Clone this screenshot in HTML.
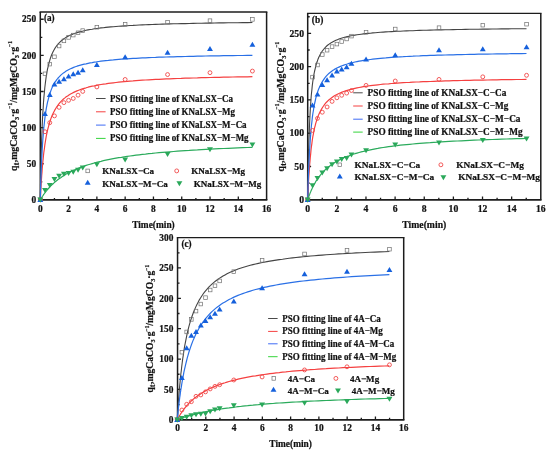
<!DOCTYPE html>
<html lang="en">
<head>
<meta charset="utf-8">
<title>PSO fitting lines</title>
<style>
html,body{margin:0;padding:0;background:#fff;}
body{width:550px;height:454px;overflow:hidden;}
svg{display:block;}
svg text{font-family:"Liberation Serif","Times New Roman",serif;font-weight:bold;fill:#111;stroke:#111;stroke-width:0.22px;}
</style>
</head>
<body>
<svg width="550" height="454" viewBox="0 0 550 454">
<rect width="550" height="454" fill="#fff"/>
<g id="panel-a">
<path d="M39.55 12H267.35" stroke="#1c1c1c" stroke-width="1.4"/><path d="M40.3 12V199.9M266.6 12V199.9" stroke="#1c1c1c" stroke-width="1.5"/><path d="M39.55 199.9H267.35" stroke="#1c1c1c" stroke-width="1.75"/>
<path d="M54.44 199.9v-2.0M68.59 199.9v-3.4M82.73 199.9v-2.0M96.88 199.9v-3.4M111.02 199.9v-2.0M125.16 199.9v-3.4M139.31 199.9v-2.0M153.45 199.9v-3.4M167.59 199.9v-2.0M181.74 199.9v-3.4M195.88 199.9v-2.0M210.03 199.9v-3.4M224.17 199.9v-2.0M238.31 199.9v-3.4M252.46 199.9v-2.0M40.3 181.83h2.0M40.3 163.77h3.4M40.3 145.7h2.0M40.3 127.63h3.4M40.3 109.56h2.0M40.3 91.5h3.4M40.3 73.43h2.0M40.3 55.36h3.4M40.3 37.29h2.0M40.3 19.23h3.4" stroke="#1c1c1c" stroke-width="1.3" fill="none"/>
<path d="M40.3 199.8L40.3 199.7L40.3 199.4L40.3 198.6L40.3 197.3L40.4 195.4L40.4 192.8L40.5 189.5L40.5 185.6L40.6 181.1L40.7 176.0L40.8 170.3L41.0 164.3L41.1 158.0L41.3 151.6L41.5 145.0L41.7 138.4L42.0 131.9L42.2 125.5L42.5 119.3L42.8 113.3L43.2 107.7L43.5 102.2L43.9 97.1L44.4 92.3L44.8 87.8L45.3 83.5L45.8 79.6L46.3 75.9L46.9 72.4L47.5 69.2L48.2 66.3L48.9 63.5L49.6 60.9L50.3 58.5L51.1 56.3L51.9 54.2L52.8 52.3L53.7 50.5L54.6 48.9L55.6 47.3L56.6 45.9L57.7 44.5L58.7 43.3L59.9 42.1L61.1 41.0L62.3 40.0L63.5 39.0L64.9 38.1L66.2 37.3L67.6 36.5L69.0 35.7L70.5 35.0L72.1 34.4L73.7 33.8L75.3 33.2L77.0 32.6L78.7 32.1L80.5 31.6L82.3 31.2L84.2 30.7L86.1 30.3L88.1 29.9L90.1 29.5L92.2 29.2L94.3 28.8L96.5 28.5L98.7 28.2L101.0 27.9L103.4 27.7L105.8 27.4L108.3 27.1L110.8 26.9L113.3 26.7L116.0 26.5L118.7 26.3L121.4 26.1L124.2 25.9L127.1 25.7L130.0 25.5L133.0 25.4L136.0 25.2L139.1 25.0L142.3 24.9L145.5 24.8L148.8 24.6L152.1 24.5L155.6 24.4L159.0 24.3L162.6 24.1L166.2 24.0L169.8 23.9L173.6 23.8L177.4 23.7L181.2 23.6L185.2 23.6L189.2 23.5L193.2 23.4L197.4 23.3L201.6 23.2L205.8 23.1L210.2 23.1L214.6 23.0L219.1 22.9L223.6 22.9L228.2 22.8L232.9 22.7L237.7 22.7L242.5 22.6L247.4 22.6L252.4 22.5" fill="none" stroke="#444444" stroke-width="1.1" stroke-linejoin="round"/>
<path d="M40.3 199.8L40.3 199.8L40.3 199.7L40.3 199.4L40.3 199.0L40.4 198.4L40.4 197.5L40.5 196.4L40.5 195.0L40.6 193.4L40.7 191.5L40.8 189.4L41.0 187.0L41.1 184.4L41.3 181.6L41.5 178.6L41.7 175.5L42.0 172.3L42.2 168.9L42.5 165.5L42.8 162.1L43.2 158.6L43.5 155.2L43.9 151.8L44.4 148.5L44.8 145.2L45.3 142.0L45.8 138.9L46.3 136.0L46.9 133.1L47.5 130.3L48.2 127.6L48.9 125.1L49.6 122.7L50.3 120.3L51.1 118.1L51.9 116.0L52.8 114.0L53.7 112.2L54.6 110.4L55.6 108.7L56.6 107.0L57.7 105.5L58.7 104.1L59.9 102.7L61.1 101.4L62.3 100.2L63.5 99.0L64.9 97.9L66.2 96.8L67.6 95.9L69.0 94.9L70.5 94.0L72.1 93.2L73.7 92.4L75.3 91.6L77.0 90.9L78.7 90.2L80.5 89.5L82.3 88.9L84.2 88.3L86.1 87.8L88.1 87.2L90.1 86.7L92.2 86.2L94.3 85.8L96.5 85.3L98.7 84.9L101.0 84.5L103.4 84.1L105.8 83.8L108.3 83.4L110.8 83.1L113.3 82.8L116.0 82.5L118.7 82.2L121.4 81.9L124.2 81.6L127.1 81.4L130.0 81.1L133.0 80.9L136.0 80.6L139.1 80.4L142.3 80.2L145.5 80.0L148.8 79.8L152.1 79.6L155.6 79.4L159.0 79.3L162.6 79.1L166.2 78.9L169.8 78.8L173.6 78.6L177.4 78.5L181.2 78.4L185.2 78.2L189.2 78.1L193.2 78.0L197.4 77.9L201.6 77.7L205.8 77.6L210.2 77.5L214.6 77.4L219.1 77.3L223.6 77.2L228.2 77.1L232.9 77.0L237.7 76.9L242.5 76.9L247.4 76.8L252.4 76.7" fill="none" stroke="#f54040" stroke-width="1.2" stroke-linejoin="round"/>
<path d="M40.3 199.8L40.3 199.8L40.3 199.5L40.3 199.1L40.3 198.3L40.4 197.1L40.4 195.5L40.5 193.5L40.5 191.0L40.6 188.2L40.7 184.9L40.8 181.2L41.0 177.2L41.1 172.9L41.3 168.4L41.5 163.8L41.7 159.0L42.0 154.2L42.2 149.4L42.5 144.7L42.8 140.0L43.2 135.5L43.5 131.1L43.9 126.8L44.4 122.8L44.8 118.9L45.3 115.2L45.8 111.7L46.3 108.4L46.9 105.3L47.5 102.3L48.2 99.6L48.9 97.0L49.6 94.6L50.3 92.3L51.1 90.1L51.9 88.1L52.8 86.3L53.7 84.5L54.6 82.9L55.6 81.3L56.6 79.9L57.7 78.5L58.7 77.3L59.9 76.1L61.1 74.9L62.3 73.9L63.5 72.9L64.9 72.0L66.2 71.1L67.6 70.3L69.0 69.5L70.5 68.8L72.1 68.1L73.7 67.4L75.3 66.8L77.0 66.2L78.7 65.7L80.5 65.2L82.3 64.7L84.2 64.2L86.1 63.8L88.1 63.3L90.1 62.9L92.2 62.6L94.3 62.2L96.5 61.9L98.7 61.5L101.0 61.2L103.4 60.9L105.8 60.6L108.3 60.4L110.8 60.1L113.3 59.9L116.0 59.6L118.7 59.4L121.4 59.2L124.2 59.0L127.1 58.8L130.0 58.6L133.0 58.4L136.0 58.3L139.1 58.1L142.3 57.9L145.5 57.8L148.8 57.6L152.1 57.5L155.6 57.4L159.0 57.2L162.6 57.1L166.2 57.0L169.8 56.9L173.6 56.8L177.4 56.7L181.2 56.6L185.2 56.5L189.2 56.4L193.2 56.3L197.4 56.2L201.6 56.1L205.8 56.0L210.2 55.9L214.6 55.9L219.1 55.8L223.6 55.7L228.2 55.6L232.9 55.6L237.7 55.5L242.5 55.5L247.4 55.4L252.4 55.3" fill="none" stroke="#2a70e6" stroke-width="1.2" stroke-linejoin="round"/>
<path d="M40.3 199.8L40.3 199.8L40.3 199.8L40.3 199.8L40.3 199.7L40.4 199.7L40.4 199.6L40.5 199.5L40.5 199.4L40.6 199.3L40.7 199.1L40.8 198.9L41.0 198.7L41.1 198.4L41.3 198.1L41.5 197.8L41.7 197.5L42.0 197.1L42.2 196.7L42.5 196.3L42.8 195.8L43.2 195.3L43.5 194.7L43.9 194.2L44.4 193.6L44.8 193.0L45.3 192.3L45.8 191.7L46.3 191.0L46.9 190.3L47.5 189.5L48.2 188.8L48.9 188.0L49.6 187.2L50.3 186.4L51.1 185.6L51.9 184.8L52.8 184.0L53.7 183.2L54.6 182.3L55.6 181.5L56.6 180.7L57.7 179.8L58.7 179.0L59.9 178.2L61.1 177.4L62.3 176.5L63.5 175.7L64.9 174.9L66.2 174.1L67.6 173.3L69.0 172.6L70.5 171.8L72.1 171.0L73.7 170.3L75.3 169.6L77.0 168.8L78.7 168.1L80.5 167.4L82.3 166.8L84.2 166.1L86.1 165.4L88.1 164.8L90.1 164.2L92.2 163.6L94.3 163.0L96.5 162.4L98.7 161.8L101.0 161.3L103.4 160.7L105.8 160.2L108.3 159.7L110.8 159.2L113.3 158.7L116.0 158.2L118.7 157.7L121.4 157.3L124.2 156.8L127.1 156.4L130.0 156.0L133.0 155.6L136.0 155.2L139.1 154.8L142.3 154.4L145.5 154.1L148.8 153.7L152.1 153.4L155.6 153.0L159.0 152.7L162.6 152.4L166.2 152.1L169.8 151.8L173.6 151.5L177.4 151.2L181.2 150.9L185.2 150.6L189.2 150.4L193.2 150.1L197.4 149.9L201.6 149.6L205.8 149.4L210.2 149.1L214.6 148.9L219.1 148.7L223.6 148.5L228.2 148.3L232.9 148.1L237.7 147.9L242.5 147.7L247.4 147.5L252.4 147.3" fill="none" stroke="#2bab5c" stroke-width="1.2" stroke-linejoin="round"/>
<rect x="38.5" y="198" width="3.6" height="3.6" fill="none" stroke="#707070" stroke-width="0.7"/>
<rect x="43.17" y="72.02" width="3.6" height="3.6" fill="none" stroke="#707070" stroke-width="0.7"/>
<rect x="47.97" y="62.32" width="3.6" height="3.6" fill="none" stroke="#707070" stroke-width="0.7"/>
<rect x="52.64" y="55.01" width="3.6" height="3.6" fill="none" stroke="#707070" stroke-width="0.7"/>
<rect x="57.31" y="44.22" width="3.6" height="3.6" fill="none" stroke="#707070" stroke-width="0.7"/>
<rect x="62.11" y="39.08" width="3.6" height="3.6" fill="none" stroke="#707070" stroke-width="0.7"/>
<rect x="66.78" y="35.61" width="3.6" height="3.6" fill="none" stroke="#707070" stroke-width="0.7"/>
<rect x="71.45" y="33.29" width="3.6" height="3.6" fill="none" stroke="#707070" stroke-width="0.7"/>
<rect x="76.25" y="30.97" width="3.6" height="3.6" fill="none" stroke="#707070" stroke-width="0.7"/>
<rect x="80.92" y="28.8" width="3.6" height="3.6" fill="none" stroke="#707070" stroke-width="0.7"/>
<rect x="95.06" y="25.4" width="3.6" height="3.6" fill="none" stroke="#707070" stroke-width="0.7"/>
<rect x="123.34" y="22.57" width="3.6" height="3.6" fill="none" stroke="#707070" stroke-width="0.7"/>
<rect x="165.76" y="20.4" width="3.6" height="3.6" fill="none" stroke="#707070" stroke-width="0.7"/>
<rect x="208.18" y="18.88" width="3.6" height="3.6" fill="none" stroke="#707070" stroke-width="0.7"/>
<rect x="250.6" y="17.58" width="3.6" height="3.6" fill="none" stroke="#707070" stroke-width="0.7"/>
<circle cx="40.3" cy="199.8" r="1.95" fill="none" stroke="#f04848" stroke-width="0.9"/>
<circle cx="44.97" cy="131.74" r="1.95" fill="none" stroke="#f04848" stroke-width="0.9"/>
<circle cx="49.77" cy="122.69" r="1.95" fill="none" stroke="#f04848" stroke-width="0.9"/>
<circle cx="54.44" cy="115.89" r="1.95" fill="none" stroke="#f04848" stroke-width="0.9"/>
<circle cx="59.11" cy="107.35" r="1.95" fill="none" stroke="#f04848" stroke-width="0.9"/>
<circle cx="63.91" cy="102.64" r="1.95" fill="none" stroke="#f04848" stroke-width="0.9"/>
<circle cx="68.58" cy="100.32" r="1.95" fill="none" stroke="#f04848" stroke-width="0.9"/>
<circle cx="73.25" cy="98.44" r="1.95" fill="none" stroke="#f04848" stroke-width="0.9"/>
<circle cx="78.05" cy="95.18" r="1.95" fill="none" stroke="#f04848" stroke-width="0.9"/>
<circle cx="82.72" cy="91.42" r="1.95" fill="none" stroke="#f04848" stroke-width="0.9"/>
<circle cx="96.86" cy="86.93" r="1.95" fill="none" stroke="#f04848" stroke-width="0.9"/>
<circle cx="125.14" cy="79.47" r="1.95" fill="none" stroke="#f04848" stroke-width="0.9"/>
<circle cx="167.56" cy="74.55" r="1.95" fill="none" stroke="#f04848" stroke-width="0.9"/>
<circle cx="209.98" cy="72.67" r="1.95" fill="none" stroke="#f04848" stroke-width="0.9"/>
<circle cx="252.4" cy="71.07" r="1.95" fill="none" stroke="#f04848" stroke-width="0.9"/>
<path d="M37.35 202L43.25 202L40.3 197Z" fill="#1560dc"/>
<path d="M42.02 115.92L47.92 115.92L44.97 110.92Z" fill="#1560dc"/>
<path d="M46.82 97.02L52.72 97.02L49.77 92.02Z" fill="#1560dc"/>
<path d="M51.49 86.59L57.39 86.59L54.44 81.59Z" fill="#1560dc"/>
<path d="M56.16 83.63L62.06 83.63L59.11 78.63Z" fill="#1560dc"/>
<path d="M60.96 81.16L66.86 81.16L63.91 76.16Z" fill="#1560dc"/>
<path d="M65.63 78.49L71.53 78.49L68.58 73.49Z" fill="#1560dc"/>
<path d="M70.3 76.31L76.2 76.31L73.25 71.31Z" fill="#1560dc"/>
<path d="M75.1 74.79L81 74.79L78.05 69.79Z" fill="#1560dc"/>
<path d="M79.77 72.26L85.67 72.26L82.72 67.26Z" fill="#1560dc"/>
<path d="M93.91 67.12L99.81 67.12L96.86 62.12Z" fill="#1560dc"/>
<path d="M122.19 59.37L128.09 59.37L125.14 54.37Z" fill="#1560dc"/>
<path d="M164.61 54.74L170.51 54.74L167.56 49.74Z" fill="#1560dc"/>
<path d="M207.03 50.97L212.93 50.97L209.98 45.97Z" fill="#1560dc"/>
<path d="M249.45 46.7L255.35 46.7L252.4 41.7Z" fill="#1560dc"/>
<path d="M37.35 197.6L43.25 197.6L40.3 202.6Z" fill="#2aa85a"/>
<path d="M42.02 188.12L47.92 188.12L44.97 193.12Z" fill="#2aa85a"/>
<path d="M46.82 182.9L52.72 182.9L49.77 187.9Z" fill="#2aa85a"/>
<path d="M51.49 176.89L57.39 176.89L54.44 181.89Z" fill="#2aa85a"/>
<path d="M56.16 173.78L62.06 173.78L59.11 178.78Z" fill="#2aa85a"/>
<path d="M60.96 171.83L66.86 171.83L63.91 176.83Z" fill="#2aa85a"/>
<path d="M65.63 170.96L71.53 170.96L68.58 175.96Z" fill="#2aa85a"/>
<path d="M70.3 169.65L76.2 169.65L73.25 174.65Z" fill="#2aa85a"/>
<path d="M75.1 167.63L81 167.63L78.05 172.63Z" fill="#2aa85a"/>
<path d="M79.77 165.45L85.67 165.45L82.72 170.45Z" fill="#2aa85a"/>
<path d="M93.91 162.27L99.81 162.27L96.86 167.27Z" fill="#2aa85a"/>
<path d="M122.19 157.49L128.09 157.49L125.14 162.49Z" fill="#2aa85a"/>
<path d="M164.61 151.92L170.51 151.92L167.56 156.92Z" fill="#2aa85a"/>
<path d="M207.03 147.28L212.93 147.28L209.98 152.28Z" fill="#2aa85a"/>
<path d="M249.45 142.58L255.35 142.58L252.4 147.58Z" fill="#2aa85a"/>
<text x="40.3" y="211.7" text-anchor="middle" font-size="9.4">0</text>
<text x="68.59" y="211.7" text-anchor="middle" font-size="9.4">2</text>
<text x="96.88" y="211.7" text-anchor="middle" font-size="9.4">4</text>
<text x="125.16" y="211.7" text-anchor="middle" font-size="9.4">6</text>
<text x="153.45" y="211.7" text-anchor="middle" font-size="9.4">8</text>
<text x="181.74" y="211.7" text-anchor="middle" font-size="9.4">10</text>
<text x="210.03" y="211.7" text-anchor="middle" font-size="9.4">12</text>
<text x="238.31" y="211.7" text-anchor="middle" font-size="9.4">14</text>
<text x="266.6" y="211.7" text-anchor="middle" font-size="9.4">16</text>
<text x="36.1" y="203.1" text-anchor="end" font-size="9.4">0</text>
<text x="36.1" y="166.97" text-anchor="end" font-size="9.4">50</text>
<text x="36.1" y="130.83" text-anchor="end" font-size="9.4">100</text>
<text x="36.1" y="94.7" text-anchor="end" font-size="9.4">150</text>
<text x="36.1" y="58.56" text-anchor="end" font-size="9.4">200</text>
<text x="36.1" y="22.43" text-anchor="end" font-size="9.4">250</text>
<text transform="translate(153.45 227.9) scale(0.95 1)" text-anchor="middle" font-size="9.9">Time(min)</text>
<text transform="translate(16.7 105.95) rotate(-90) scale(0.893 1)" text-anchor="middle" font-size="11.0">q<tspan font-size="8.4" dy="1.9" dx="0.3">t</tspan><tspan dy="-1.9" dx="0.5">,mgCaCO</tspan><tspan font-size="7.0" dy="1.9">3</tspan><tspan dy="-1.9">·g</tspan><tspan font-size="6.2" dy="-4.5">−1</tspan><tspan dy="4.5">/mgMgCO</tspan><tspan font-size="7.0" dy="1.9">3</tspan><tspan dy="-1.9">·g</tspan><tspan font-size="6.2" dy="-4.5">−1</tspan></text>
<text transform="translate(43.9 21.3) scale(0.95 1)" text-anchor="start" font-size="9.6">(a)</text>
<path d="M96 98.5H105.6" stroke="#4a4a4a" stroke-width="1"/>
<text transform="translate(110.1 101.5) scale(0.957 1)" text-anchor="start" font-size="9.4">PSO fitting line of KNaLSX−Ca</text>
<path d="M96 111.8H105.6" stroke="#f54040" stroke-width="1"/>
<text transform="translate(110.1 114.8) scale(0.957 1)" text-anchor="start" font-size="9.4">PSO fitting line of KNaLSX−Mg</text>
<path d="M96 125.1H105.6" stroke="#3f6cf5" stroke-width="1"/>
<text transform="translate(110.1 128.1) scale(0.957 1)" text-anchor="start" font-size="9.4">PSO fitting line of KNaLSX−M−Ca</text>
<path d="M96 138.4H105.6" stroke="#35d43c" stroke-width="1"/>
<text transform="translate(110.1 141.4) scale(0.957 1)" text-anchor="start" font-size="9.4">PSO fitting line of KNaLSX−M−Mg</text>
<rect x="85.9" y="169.1" width="3.6" height="3.6" fill="none" stroke="#707070" stroke-width="0.7"/>
<text x="102.2" y="174.05" text-anchor="start" font-size="9.05">KNaLSX−Ca</text>
<circle cx="176.7" cy="170.9" r="1.95" fill="none" stroke="#f04848" stroke-width="0.9"/>
<text x="191.2" y="174.05" text-anchor="start" font-size="9.05">KNaLSX−Mg</text>
<path d="M84.75 184.8L90.65 184.8L87.7 179.8Z" fill="#1560dc"/>
<text x="102.2" y="186.55" text-anchor="start" font-size="9.05">KNaLSX−M−Ca</text>
<path d="M176.45 181.3L182.35 181.3L179.4 186.3Z" fill="#2aa85a"/>
<text x="193.7" y="186.55" text-anchor="start" font-size="9.05">KNaLSX−M−Mg</text>
</g>
<g id="panel-b">
<path d="M306.95 13.4H541.55" stroke="#1c1c1c" stroke-width="1.4"/><path d="M307.7 13.4V199.8M540.8 13.4V199.8" stroke="#1c1c1c" stroke-width="1.5"/><path d="M306.95 199.8H541.55" stroke="#1c1c1c" stroke-width="1.75"/>
<path d="M322.27 199.8v-2.0M336.84 199.8v-3.4M351.41 199.8v-2.0M365.97 199.8v-3.4M380.54 199.8v-2.0M395.11 199.8v-3.4M409.68 199.8v-2.0M424.25 199.8v-3.4M438.82 199.8v-2.0M453.39 199.8v-3.4M467.96 199.8v-2.0M482.52 199.8v-3.4M497.09 199.8v-2.0M511.66 199.8v-3.4M526.23 199.8v-2.0M307.7 183.16h2.0M307.7 166.51h3.4M307.7 149.87h2.0M307.7 133.23h3.4M307.7 116.59h2.0M307.7 99.94h3.4M307.7 83.3h2.0M307.7 66.66h3.4M307.7 50.01h2.0M307.7 33.37h3.4M307.7 16.73h2.0" stroke="#1c1c1c" stroke-width="1.3" fill="none"/>
<path d="M307.7 199.8L307.7 199.7L307.7 199.3L307.7 198.4L307.7 197.0L307.8 194.8L307.8 191.9L307.9 188.3L307.9 183.9L308.0 178.9L308.1 173.4L308.2 167.3L308.4 160.9L308.5 154.3L308.7 147.6L308.9 140.8L309.2 134.1L309.4 127.6L309.7 121.3L310.0 115.2L310.3 109.4L310.7 104.0L311.0 98.9L311.4 94.0L311.9 89.6L312.3 85.4L312.8 81.5L313.4 77.9L313.9 74.6L314.5 71.5L315.2 68.6L315.8 66.0L316.5 63.5L317.3 61.3L318.0 59.2L318.8 57.2L319.7 55.5L320.6 53.8L321.5 52.3L322.5 50.8L323.5 49.5L324.5 48.3L325.6 47.1L326.7 46.0L327.9 45.0L329.1 44.1L330.4 43.2L331.7 42.4L333.0 41.7L334.4 41.0L335.9 40.3L337.4 39.7L338.9 39.1L340.5 38.5L342.1 38.0L343.8 37.5L345.5 37.1L347.3 36.6L349.1 36.2L351.0 35.8L353.0 35.5L354.9 35.1L357.0 34.8L359.1 34.5L361.2 34.2L363.4 33.9L365.7 33.6L368.0 33.4L370.4 33.2L372.8 32.9L375.3 32.7L377.8 32.5L380.4 32.3L383.1 32.1L385.8 31.9L388.6 31.8L391.4 31.6L394.3 31.5L397.2 31.3L400.2 31.2L403.3 31.0L406.5 30.9L409.7 30.8L412.9 30.7L416.3 30.5L419.6 30.4L423.1 30.3L426.6 30.2L430.2 30.1L433.9 30.0L437.6 29.9L441.4 29.9L445.2 29.8L449.1 29.7L453.1 29.6L457.2 29.5L461.3 29.5L465.5 29.4L469.8 29.3L474.1 29.3L478.5 29.2L483.0 29.1L487.5 29.1L492.2 29.0L496.9 29.0L501.6 28.9L506.5 28.9L511.4 28.8L516.4 28.8L521.4 28.7L526.5 28.7" fill="none" stroke="#444444" stroke-width="1.1" stroke-linejoin="round"/>
<path d="M307.7 199.8L307.7 199.8L307.7 199.6L307.7 199.3L307.7 198.8L307.8 198.1L307.8 197.0L307.9 195.7L307.9 194.1L308.0 192.2L308.1 189.9L308.2 187.4L308.4 184.7L308.5 181.7L308.7 178.5L308.9 175.2L309.2 171.7L309.4 168.1L309.7 164.5L310.0 160.9L310.3 157.2L310.7 153.6L311.0 150.1L311.4 146.6L311.9 143.3L312.3 140.0L312.8 136.9L313.4 133.9L313.9 131.0L314.5 128.2L315.2 125.6L315.8 123.1L316.5 120.8L317.3 118.5L318.0 116.4L318.8 114.4L319.7 112.5L320.6 110.7L321.5 109.1L322.5 107.5L323.5 106.0L324.5 104.6L325.6 103.2L326.7 102.0L327.9 100.8L329.1 99.7L330.4 98.7L331.7 97.7L333.0 96.7L334.4 95.8L335.9 95.0L337.4 94.2L338.9 93.5L340.5 92.8L342.1 92.1L343.8 91.5L345.5 90.9L347.3 90.3L349.1 89.8L351.0 89.3L353.0 88.8L354.9 88.3L357.0 87.9L359.1 87.5L361.2 87.1L363.4 86.7L365.7 86.3L368.0 86.0L370.4 85.7L372.8 85.4L375.3 85.1L377.8 84.8L380.4 84.5L383.1 84.2L385.8 84.0L388.6 83.8L391.4 83.5L394.3 83.3L397.2 83.1L400.2 82.9L403.3 82.7L406.5 82.5L409.7 82.4L412.9 82.2L416.3 82.0L419.6 81.9L423.1 81.7L426.6 81.6L430.2 81.5L433.9 81.3L437.6 81.2L441.4 81.1L445.2 80.9L449.1 80.8L453.1 80.7L457.2 80.6L461.3 80.5L465.5 80.4L469.8 80.3L474.1 80.2L478.5 80.1L483.0 80.1L487.5 80.0L492.2 79.9L496.9 79.8L501.6 79.7L506.5 79.7L511.4 79.6L516.4 79.5L521.4 79.5L526.5 79.4" fill="none" stroke="#f54040" stroke-width="1.2" stroke-linejoin="round"/>
<path d="M307.7 199.8L307.7 199.8L307.7 199.5L307.7 199.1L307.7 198.3L307.8 197.1L307.8 195.5L307.9 193.4L307.9 190.9L308.0 188.0L308.1 184.6L308.2 180.9L308.4 176.8L308.5 172.5L308.7 167.9L308.9 163.2L309.2 158.4L309.4 153.5L309.7 148.7L310.0 143.9L310.3 139.1L310.7 134.5L311.0 130.1L311.4 125.8L311.9 121.7L312.3 117.7L312.8 114.0L313.4 110.5L313.9 107.1L314.5 104.0L315.2 101.0L315.8 98.2L316.5 95.6L317.3 93.1L318.0 90.8L318.8 88.7L319.7 86.7L320.6 84.8L321.5 83.0L322.5 81.3L323.5 79.8L324.5 78.3L325.6 76.9L326.7 75.6L327.9 74.4L329.1 73.3L330.4 72.2L331.7 71.2L333.0 70.3L334.4 69.4L335.9 68.6L337.4 67.8L338.9 67.1L340.5 66.4L342.1 65.7L343.8 65.1L345.5 64.5L347.3 64.0L349.1 63.4L351.0 62.9L353.0 62.5L354.9 62.0L357.0 61.6L359.1 61.2L361.2 60.8L363.4 60.4L365.7 60.1L368.0 59.8L370.4 59.5L372.8 59.2L375.3 58.9L377.8 58.6L380.4 58.3L383.1 58.1L385.8 57.9L388.6 57.6L391.4 57.4L394.3 57.2L397.2 57.0L400.2 56.8L403.3 56.7L406.5 56.5L409.7 56.3L412.9 56.2L416.3 56.0L419.6 55.9L423.1 55.7L426.6 55.6L430.2 55.4L433.9 55.3L437.6 55.2L441.4 55.1L445.2 55.0L449.1 54.9L453.1 54.8L457.2 54.7L461.3 54.6L465.5 54.5L469.8 54.4L474.1 54.3L478.5 54.2L483.0 54.1L487.5 54.1L492.2 54.0L496.9 53.9L501.6 53.8L506.5 53.8L511.4 53.7L516.4 53.6L521.4 53.6L526.5 53.5" fill="none" stroke="#2a70e6" stroke-width="1.2" stroke-linejoin="round"/>
<path d="M307.7 199.8L307.7 199.8L307.7 199.8L307.7 199.7L307.7 199.7L307.8 199.6L307.8 199.5L307.9 199.3L307.9 199.1L308.0 198.8L308.1 198.5L308.2 198.1L308.4 197.7L308.5 197.3L308.7 196.8L308.9 196.2L309.2 195.6L309.4 194.9L309.7 194.2L310.0 193.4L310.3 192.6L310.7 191.8L311.0 190.9L311.4 190.0L311.9 189.0L312.3 188.0L312.8 187.0L313.4 185.9L313.9 184.8L314.5 183.7L315.2 182.6L315.8 181.5L316.5 180.4L317.3 179.3L318.0 178.2L318.8 177.0L319.7 175.9L320.6 174.8L321.5 173.7L322.5 172.6L323.5 171.5L324.5 170.5L325.6 169.4L326.7 168.4L327.9 167.4L329.1 166.4L330.4 165.5L331.7 164.5L333.0 163.6L334.4 162.7L335.9 161.8L337.4 161.0L338.9 160.2L340.5 159.3L342.1 158.6L343.8 157.8L345.5 157.1L347.3 156.3L349.1 155.7L351.0 155.0L353.0 154.3L354.9 153.7L357.0 153.1L359.1 152.5L361.2 151.9L363.4 151.4L365.7 150.8L368.0 150.3L370.4 149.8L372.8 149.3L375.3 148.8L377.8 148.4L380.4 147.9L383.1 147.5L385.8 147.1L388.6 146.7L391.4 146.3L394.3 145.9L397.2 145.6L400.2 145.2L403.3 144.9L406.5 144.6L409.7 144.3L412.9 144.0L416.3 143.7L419.6 143.4L423.1 143.1L426.6 142.8L430.2 142.6L433.9 142.3L437.6 142.1L441.4 141.8L445.2 141.6L449.1 141.4L453.1 141.2L457.2 141.0L461.3 140.8L465.5 140.6L469.8 140.4L474.1 140.2L478.5 140.0L483.0 139.8L487.5 139.7L492.2 139.5L496.9 139.3L501.6 139.2L506.5 139.0L511.4 138.9L516.4 138.7L521.4 138.6L526.5 138.5" fill="none" stroke="#2bab5c" stroke-width="1.2" stroke-linejoin="round"/>
<rect x="305.9" y="198" width="3.6" height="3.6" fill="none" stroke="#707070" stroke-width="0.7"/>
<rect x="310.71" y="75.29" width="3.6" height="3.6" fill="none" stroke="#707070" stroke-width="0.7"/>
<rect x="315.68" y="63.21" width="3.6" height="3.6" fill="none" stroke="#707070" stroke-width="0.7"/>
<rect x="320.49" y="52.72" width="3.6" height="3.6" fill="none" stroke="#707070" stroke-width="0.7"/>
<rect x="325.3" y="48.4" width="3.6" height="3.6" fill="none" stroke="#707070" stroke-width="0.7"/>
<rect x="330.27" y="44.82" width="3.6" height="3.6" fill="none" stroke="#707070" stroke-width="0.7"/>
<rect x="335.08" y="42.29" width="3.6" height="3.6" fill="none" stroke="#707070" stroke-width="0.7"/>
<rect x="339.89" y="39.7" width="3.6" height="3.6" fill="none" stroke="#707070" stroke-width="0.7"/>
<rect x="344.86" y="37.18" width="3.6" height="3.6" fill="none" stroke="#707070" stroke-width="0.7"/>
<rect x="349.67" y="34.32" width="3.6" height="3.6" fill="none" stroke="#707070" stroke-width="0.7"/>
<rect x="364.26" y="30.47" width="3.6" height="3.6" fill="none" stroke="#707070" stroke-width="0.7"/>
<rect x="393.44" y="27.22" width="3.6" height="3.6" fill="none" stroke="#707070" stroke-width="0.7"/>
<rect x="437.21" y="25.89" width="3.6" height="3.6" fill="none" stroke="#707070" stroke-width="0.7"/>
<rect x="480.98" y="23.37" width="3.6" height="3.6" fill="none" stroke="#707070" stroke-width="0.7"/>
<rect x="524.75" y="22.37" width="3.6" height="3.6" fill="none" stroke="#707070" stroke-width="0.7"/>
<circle cx="307.7" cy="199.8" r="1.95" fill="none" stroke="#f04848" stroke-width="0.9"/>
<circle cx="312.51" cy="130.41" r="1.95" fill="none" stroke="#f04848" stroke-width="0.9"/>
<circle cx="317.48" cy="118.39" r="1.95" fill="none" stroke="#f04848" stroke-width="0.9"/>
<circle cx="322.29" cy="112.22" r="1.95" fill="none" stroke="#f04848" stroke-width="0.9"/>
<circle cx="327.1" cy="106.97" r="1.95" fill="none" stroke="#f04848" stroke-width="0.9"/>
<circle cx="332.07" cy="101.4" r="1.95" fill="none" stroke="#f04848" stroke-width="0.9"/>
<circle cx="336.88" cy="97.81" r="1.95" fill="none" stroke="#f04848" stroke-width="0.9"/>
<circle cx="341.69" cy="95.29" r="1.95" fill="none" stroke="#f04848" stroke-width="0.9"/>
<circle cx="346.66" cy="93.1" r="1.95" fill="none" stroke="#f04848" stroke-width="0.9"/>
<circle cx="351.47" cy="90.51" r="1.95" fill="none" stroke="#f04848" stroke-width="0.9"/>
<circle cx="366.06" cy="85.39" r="1.95" fill="none" stroke="#f04848" stroke-width="0.9"/>
<circle cx="395.24" cy="81.01" r="1.95" fill="none" stroke="#f04848" stroke-width="0.9"/>
<circle cx="439.01" cy="79.42" r="1.95" fill="none" stroke="#f04848" stroke-width="0.9"/>
<circle cx="482.78" cy="76.83" r="1.95" fill="none" stroke="#f04848" stroke-width="0.9"/>
<circle cx="526.55" cy="75.3" r="1.95" fill="none" stroke="#f04848" stroke-width="0.9"/>
<path d="M304.75 202L310.65 202L307.7 197Z" fill="#1560dc"/>
<path d="M309.56 107.38L315.46 107.38L312.51 102.38Z" fill="#1560dc"/>
<path d="M314.53 96.56L320.43 96.56L317.48 91.56Z" fill="#1560dc"/>
<path d="M319.34 87L325.24 87L322.29 82Z" fill="#1560dc"/>
<path d="M324.15 82.15L330.05 82.15L327.1 77.15Z" fill="#1560dc"/>
<path d="M329.12 77.43L335.02 77.43L332.07 72.43Z" fill="#1560dc"/>
<path d="M333.93 73.58L339.83 73.58L336.88 68.58Z" fill="#1560dc"/>
<path d="M338.74 71.39L344.64 71.39L341.69 66.39Z" fill="#1560dc"/>
<path d="M343.71 69.13L349.61 69.13L346.66 64.13Z" fill="#1560dc"/>
<path d="M348.52 65.68L354.42 65.68L351.47 60.68Z" fill="#1560dc"/>
<path d="M363.11 61.43L369.01 61.43L366.06 56.43Z" fill="#1560dc"/>
<path d="M392.29 57.31L398.19 57.31L395.24 52.31Z" fill="#1560dc"/>
<path d="M436.06 52.2L441.96 52.2L439.01 47.2Z" fill="#1560dc"/>
<path d="M479.83 51.21L485.73 51.21L482.78 46.21Z" fill="#1560dc"/>
<path d="M523.6 49.28L529.5 49.28L526.55 44.28Z" fill="#1560dc"/>
<path d="M304.75 197.6L310.65 197.6L307.7 202.6Z" fill="#2aa85a"/>
<path d="M309.56 183.32L315.46 183.32L312.51 188.32Z" fill="#2aa85a"/>
<path d="M314.53 176.09L320.43 176.09L317.48 181.09Z" fill="#2aa85a"/>
<path d="M319.34 170.58L325.24 170.58L322.29 175.58Z" fill="#2aa85a"/>
<path d="M324.15 166.13L330.05 166.13L327.1 171.13Z" fill="#2aa85a"/>
<path d="M329.12 162.28L335.02 162.28L332.07 167.28Z" fill="#2aa85a"/>
<path d="M333.93 159.42L339.83 159.42L336.88 164.42Z" fill="#2aa85a"/>
<path d="M338.74 157.1L344.64 157.1L341.69 162.1Z" fill="#2aa85a"/>
<path d="M343.71 155.9L349.61 155.9L346.66 160.9Z" fill="#2aa85a"/>
<path d="M348.52 152.45L354.42 152.45L351.47 157.45Z" fill="#2aa85a"/>
<path d="M363.11 148.2L369.01 148.2L366.06 153.2Z" fill="#2aa85a"/>
<path d="M392.29 142.62L398.19 142.62L395.24 147.62Z" fill="#2aa85a"/>
<path d="M436.06 140.43L441.96 140.43L439.01 145.43Z" fill="#2aa85a"/>
<path d="M479.83 138.11L485.73 138.11L482.78 143.11Z" fill="#2aa85a"/>
<path d="M523.6 136.58L529.5 136.58L526.55 141.58Z" fill="#2aa85a"/>
<text transform="translate(307.7 211.6) scale(1.032 1)" text-anchor="middle" font-size="9.4">0</text>
<text transform="translate(336.84 211.6) scale(1.032 1)" text-anchor="middle" font-size="9.4">2</text>
<text transform="translate(365.97 211.6) scale(1.032 1)" text-anchor="middle" font-size="9.4">4</text>
<text transform="translate(395.11 211.6) scale(1.032 1)" text-anchor="middle" font-size="9.4">6</text>
<text transform="translate(424.25 211.6) scale(1.032 1)" text-anchor="middle" font-size="9.4">8</text>
<text transform="translate(453.39 211.6) scale(1.032 1)" text-anchor="middle" font-size="9.4">10</text>
<text transform="translate(482.52 211.6) scale(1.032 1)" text-anchor="middle" font-size="9.4">12</text>
<text transform="translate(511.66 211.6) scale(1.032 1)" text-anchor="middle" font-size="9.4">14</text>
<text transform="translate(540.8 211.6) scale(1.032 1)" text-anchor="middle" font-size="9.4">16</text>
<text transform="translate(304 203) scale(1.032 1)" text-anchor="end" font-size="9.4">0</text>
<text transform="translate(304 169.71) scale(1.032 1)" text-anchor="end" font-size="9.4">50</text>
<text transform="translate(304 136.43) scale(1.032 1)" text-anchor="end" font-size="9.4">100</text>
<text transform="translate(304 103.14) scale(1.032 1)" text-anchor="end" font-size="9.4">150</text>
<text transform="translate(304 69.86) scale(1.032 1)" text-anchor="end" font-size="9.4">200</text>
<text transform="translate(304 36.57) scale(1.032 1)" text-anchor="end" font-size="9.4">250</text>
<text transform="translate(424.25 228.2) scale(0.98 1)" text-anchor="middle" font-size="9.9">Time(min)</text>
<text transform="translate(283.8 106.6) rotate(-90) scale(0.893 1)" text-anchor="middle" font-size="11.0">q<tspan font-size="8.4" dy="1.9" dx="0.3">t</tspan><tspan dy="-1.9" dx="0.5">,mgCaCO</tspan><tspan font-size="7.0" dy="1.9">3</tspan><tspan dy="-1.9">·g</tspan><tspan font-size="6.2" dy="-4.5">−1</tspan><tspan dy="4.5">/mgMgCO</tspan><tspan font-size="7.0" dy="1.9">3</tspan><tspan dy="-1.9">·g</tspan><tspan font-size="6.2" dy="-4.5">−1</tspan></text>
<text transform="translate(311.8 23.2) scale(0.98 1)" text-anchor="start" font-size="9.6">(b)</text>
<path d="M353.2 92.8H362.7" stroke="#4a4a4a" stroke-width="1"/>
<text transform="translate(367.6 95.8) scale(0.988 1)" text-anchor="start" font-size="9.4">PSO fitting line of KNaLSX−C−Ca</text>
<path d="M353.2 106H362.7" stroke="#f54040" stroke-width="1"/>
<text transform="translate(367.6 109) scale(0.988 1)" text-anchor="start" font-size="9.4">PSO fitting line of KNaLSX−C−Mg</text>
<path d="M353.2 119.2H362.7" stroke="#3f6cf5" stroke-width="1"/>
<text transform="translate(367.6 122.2) scale(0.988 1)" text-anchor="start" font-size="9.4">PSO fitting line of KNaLSX−C−M−Ca</text>
<path d="M353.2 132.1H362.7" stroke="#35d43c" stroke-width="1"/>
<text transform="translate(367.6 135.1) scale(0.988 1)" text-anchor="start" font-size="9.4">PSO fitting line of KNaLSX−C−M−Mg</text>
<rect x="338" y="163" width="3.6" height="3.6" fill="none" stroke="#707070" stroke-width="0.7"/>
<text transform="translate(354.5 167.6) scale(1.032 1)" text-anchor="start" font-size="9.05">KNaLSX−C−Ca</text>
<circle cx="440.9" cy="164.8" r="1.95" fill="none" stroke="#f04848" stroke-width="0.9"/>
<text transform="translate(456.2 167.6) scale(1.032 1)" text-anchor="start" font-size="9.05">KNaLSX−C−Mg</text>
<path d="M336.85 178.6L342.75 178.6L339.8 173.6Z" fill="#1560dc"/>
<text transform="translate(354.5 180.3) scale(1.032 1)" text-anchor="start" font-size="9.05">KNaLSX−C−M−Ca</text>
<path d="M440.45 175.3L446.35 175.3L443.4 180.3Z" fill="#2aa85a"/>
<text transform="translate(458.2 180.3) scale(1.032 1)" text-anchor="start" font-size="9.05">KNaLSX−C−M−Mg</text>
</g>
<g id="panel-c">
<path d="M176.8 237.6H404.45" stroke="#1c1c1c" stroke-width="1.4"/><path d="M177.55 237.6V419.8M403.7 237.6V419.8" stroke="#1c1c1c" stroke-width="1.5"/><path d="M176.8 419.8H404.45" stroke="#1c1c1c" stroke-width="1.75"/>
<path d="M191.68 419.8v-2.0M205.82 419.8v-3.4M219.95 419.8v-2.0M234.09 419.8v-3.4M248.22 419.8v-2.0M262.36 419.8v-3.4M276.49 419.8v-2.0M290.62 419.8v-3.4M304.76 419.8v-2.0M318.89 419.8v-3.4M333.03 419.8v-2.0M347.16 419.8v-3.4M361.3 419.8v-2.0M375.43 419.8v-3.4M389.57 419.8v-2.0M177.55 404.62h2.0M177.55 389.43h3.4M177.55 374.25h2.0M177.55 359.07h3.4M177.55 343.88h2.0M177.55 328.7h3.4M177.55 313.52h2.0M177.55 298.33h3.4M177.55 283.15h2.0M177.55 267.97h3.4M177.55 252.78h2.0" stroke="#1c1c1c" stroke-width="1.3" fill="none"/>
<path d="M177.2 419.8L177.2 419.8L177.2 419.7L177.2 419.5L177.2 419.2L177.3 418.6L177.3 418.0L177.4 417.1L177.4 416.0L177.5 414.6L177.6 413.0L177.7 411.2L177.9 409.2L178.0 406.9L178.2 404.4L178.4 401.7L178.6 398.8L178.9 395.7L179.1 392.5L179.4 389.0L179.7 385.5L180.1 381.9L180.4 378.1L180.8 374.3L181.3 370.5L181.7 366.7L182.2 362.8L182.7 358.9L183.3 355.1L183.8 351.3L184.4 347.6L185.1 343.9L185.8 340.3L186.5 336.8L187.2 333.4L188.0 330.1L188.8 326.9L189.7 323.7L190.6 320.7L191.5 317.8L192.5 315.0L193.5 312.2L194.6 309.6L195.7 307.1L196.8 304.7L198.0 302.4L199.2 300.1L200.5 298.0L201.8 296.0L203.1 294.0L204.5 292.1L206.0 290.3L207.5 288.6L209.0 286.9L210.6 285.4L212.2 283.8L213.9 282.4L215.6 281.0L217.4 279.7L219.2 278.4L221.1 277.2L223.0 276.0L225.0 274.9L227.0 273.8L229.1 272.8L231.3 271.8L233.4 270.9L235.7 270.0L238.0 269.1L240.3 268.3L242.7 267.5L245.2 266.7L247.7 266.0L250.3 265.3L252.9 264.6L255.6 264.0L258.4 263.4L261.2 262.8L264.0 262.2L267.0 261.6L269.9 261.1L273.0 260.6L276.1 260.1L279.3 259.6L282.5 259.2L285.8 258.7L289.1 258.3L292.5 257.9L296.0 257.5L299.6 257.1L303.2 256.7L306.8 256.4L310.6 256.0L314.4 255.7L318.2 255.4L322.2 255.1L326.2 254.8L330.2 254.5L334.4 254.2L338.6 253.9L342.9 253.7L347.2 253.4L351.6 253.2L356.1 252.9L360.6 252.7L365.3 252.5L370.0 252.3L374.7 252.1L379.6 251.9L384.5 251.7L389.4 251.5" fill="none" stroke="#444444" stroke-width="1.1" stroke-linejoin="round"/>
<path d="M177.2 419.8L177.2 419.8L177.2 419.8L177.2 419.8L177.2 419.7L177.3 419.7L177.3 419.6L177.4 419.5L177.4 419.4L177.5 419.2L177.6 419.0L177.7 418.8L177.9 418.5L178.0 418.3L178.2 417.9L178.4 417.6L178.6 417.2L178.9 416.8L179.1 416.3L179.4 415.8L179.7 415.3L180.1 414.8L180.4 414.2L180.8 413.6L181.3 412.9L181.7 412.2L182.2 411.5L182.7 410.8L183.3 410.0L183.8 409.3L184.4 408.5L185.1 407.7L185.8 406.8L186.5 406.0L187.2 405.1L188.0 404.3L188.8 403.4L189.7 402.5L190.6 401.7L191.5 400.8L192.5 399.9L193.5 399.0L194.6 398.1L195.7 397.3L196.8 396.4L198.0 395.5L199.2 394.7L200.5 393.9L201.8 393.0L203.1 392.2L204.5 391.4L206.0 390.6L207.5 389.8L209.0 389.0L210.6 388.3L212.2 387.5L213.9 386.8L215.6 386.1L217.4 385.4L219.2 384.7L221.1 384.0L223.0 383.4L225.0 382.8L227.0 382.1L229.1 381.5L231.3 380.9L233.4 380.4L235.7 379.8L238.0 379.2L240.3 378.7L242.7 378.2L245.2 377.7L247.7 377.2L250.3 376.7L252.9 376.2L255.6 375.8L258.4 375.3L261.2 374.9L264.0 374.5L267.0 374.1L269.9 373.7L273.0 373.3L276.1 372.9L279.3 372.6L282.5 372.2L285.8 371.9L289.1 371.5L292.5 371.2L296.0 370.9L299.6 370.6L303.2 370.3L306.8 370.0L310.6 369.7L314.4 369.5L318.2 369.2L322.2 368.9L326.2 368.7L330.2 368.4L334.4 368.2L338.6 368.0L342.9 367.7L347.2 367.5L351.6 367.3L356.1 367.1L360.6 366.9L365.3 366.7L370.0 366.5L374.7 366.3L379.6 366.1L384.5 366.0L389.4 365.8" fill="none" stroke="#f54040" stroke-width="1.2" stroke-linejoin="round"/>
<path d="M177.2 419.8L177.2 419.8L177.2 419.7L177.2 419.6L177.2 419.4L177.3 419.1L177.3 418.7L177.4 418.1L177.4 417.5L177.5 416.6L177.6 415.7L177.7 414.6L177.9 413.3L178.0 411.8L178.2 410.3L178.4 408.5L178.6 406.6L178.9 404.6L179.1 402.4L179.4 400.2L179.7 397.7L180.1 395.2L180.4 392.6L180.8 389.9L181.3 387.2L181.7 384.4L182.2 381.5L182.7 378.6L183.3 375.7L183.8 372.7L184.4 369.8L185.1 366.8L185.8 363.9L186.5 361.0L187.2 358.1L188.0 355.3L188.8 352.5L189.7 349.8L190.6 347.1L191.5 344.5L192.5 341.9L193.5 339.4L194.6 337.0L195.7 334.6L196.8 332.3L198.0 330.1L199.2 328.0L200.5 325.9L201.8 323.8L203.1 321.9L204.5 320.0L206.0 318.2L207.5 316.4L209.0 314.7L210.6 313.0L212.2 311.4L213.9 309.9L215.6 308.4L217.4 307.0L219.2 305.7L221.1 304.3L223.0 303.1L225.0 301.9L227.0 300.7L229.1 299.5L231.3 298.5L233.4 297.4L235.7 296.4L238.0 295.4L240.3 294.5L242.7 293.6L245.2 292.7L247.7 291.9L250.3 291.1L252.9 290.3L255.6 289.5L258.4 288.8L261.2 288.1L264.0 287.4L267.0 286.8L269.9 286.2L273.0 285.6L276.1 285.0L279.3 284.4L282.5 283.9L285.8 283.4L289.1 282.9L292.5 282.4L296.0 281.9L299.6 281.4L303.2 281.0L306.8 280.6L310.6 280.2L314.4 279.8L318.2 279.4L322.2 279.0L326.2 278.6L330.2 278.3L334.4 277.9L338.6 277.6L342.9 277.3L347.2 277.0L351.6 276.7L356.1 276.4L360.6 276.1L365.3 275.8L370.0 275.6L374.7 275.3L379.6 275.1L384.5 274.8L389.4 274.6" fill="none" stroke="#2a70e6" stroke-width="1.2" stroke-linejoin="round"/>
<path d="M177.2 419.8L177.2 419.8L177.2 419.8L177.2 419.8L177.2 419.8L177.3 419.8L177.3 419.8L177.4 419.7L177.4 419.7L177.5 419.7L177.6 419.6L177.7 419.6L177.9 419.5L178.0 419.5L178.2 419.4L178.4 419.3L178.6 419.3L178.9 419.2L179.1 419.1L179.4 419.0L179.7 418.8L180.1 418.7L180.4 418.6L180.8 418.4L181.3 418.3L181.7 418.1L182.2 418.0L182.7 417.8L183.3 417.6L183.8 417.4L184.4 417.2L185.1 417.0L185.8 416.8L186.5 416.6L187.2 416.3L188.0 416.1L188.8 415.9L189.7 415.6L190.6 415.4L191.5 415.1L192.5 414.8L193.5 414.6L194.6 414.3L195.7 414.0L196.8 413.7L198.0 413.4L199.2 413.2L200.5 412.9L201.8 412.6L203.1 412.3L204.5 412.0L206.0 411.7L207.5 411.4L209.0 411.1L210.6 410.8L212.2 410.5L213.9 410.2L215.6 409.9L217.4 409.6L219.2 409.3L221.1 409.0L223.0 408.7L225.0 408.4L227.0 408.1L229.1 407.9L231.3 407.6L233.4 407.3L235.7 407.0L238.0 406.7L240.3 406.5L242.7 406.2L245.2 405.9L247.7 405.7L250.3 405.4L252.9 405.2L255.6 404.9L258.4 404.7L261.2 404.4L264.0 404.2L267.0 403.9L269.9 403.7L273.0 403.5L276.1 403.2L279.3 403.0L282.5 402.8L285.8 402.6L289.1 402.4L292.5 402.2L296.0 402.0L299.6 401.8L303.2 401.6L306.8 401.4L310.6 401.2L314.4 401.0L318.2 400.8L322.2 400.6L326.2 400.5L330.2 400.3L334.4 400.1L338.6 400.0L342.9 399.8L347.2 399.6L351.6 399.5L356.1 399.3L360.6 399.2L365.3 399.0L370.0 398.9L374.7 398.8L379.6 398.6L384.5 398.5L389.4 398.4" fill="none" stroke="#2bab5c" stroke-width="1.2" stroke-linejoin="round"/>
<rect x="175.4" y="418" width="3.6" height="3.6" fill="none" stroke="#707070" stroke-width="0.7"/>
<rect x="180.07" y="350.39" width="3.6" height="3.6" fill="none" stroke="#707070" stroke-width="0.7"/>
<rect x="184.88" y="330.14" width="3.6" height="3.6" fill="none" stroke="#707070" stroke-width="0.7"/>
<rect x="189.55" y="317.62" width="3.6" height="3.6" fill="none" stroke="#707070" stroke-width="0.7"/>
<rect x="194.22" y="309.29" width="3.6" height="3.6" fill="none" stroke="#707070" stroke-width="0.7"/>
<rect x="199.03" y="302.24" width="3.6" height="3.6" fill="none" stroke="#707070" stroke-width="0.7"/>
<rect x="203.7" y="295.85" width="3.6" height="3.6" fill="none" stroke="#707070" stroke-width="0.7"/>
<rect x="208.37" y="288.19" width="3.6" height="3.6" fill="none" stroke="#707070" stroke-width="0.7"/>
<rect x="213.18" y="283.94" width="3.6" height="3.6" fill="none" stroke="#707070" stroke-width="0.7"/>
<rect x="217.85" y="279.13" width="3.6" height="3.6" fill="none" stroke="#707070" stroke-width="0.7"/>
<rect x="232" y="269.83" width="3.6" height="3.6" fill="none" stroke="#707070" stroke-width="0.7"/>
<rect x="260.3" y="258.52" width="3.6" height="3.6" fill="none" stroke="#707070" stroke-width="0.7"/>
<rect x="302.75" y="252.14" width="3.6" height="3.6" fill="none" stroke="#707070" stroke-width="0.7"/>
<rect x="345.2" y="248.61" width="3.6" height="3.6" fill="none" stroke="#707070" stroke-width="0.7"/>
<rect x="387.65" y="247.4" width="3.6" height="3.6" fill="none" stroke="#707070" stroke-width="0.7"/>
<circle cx="177.2" cy="419.8" r="1.95" fill="none" stroke="#f04848" stroke-width="0.9"/>
<circle cx="181.87" cy="410.01" r="1.95" fill="none" stroke="#f04848" stroke-width="0.9"/>
<circle cx="186.68" cy="404.3" r="1.95" fill="none" stroke="#f04848" stroke-width="0.9"/>
<circle cx="191.35" cy="401.68" r="1.95" fill="none" stroke="#f04848" stroke-width="0.9"/>
<circle cx="196.02" cy="396.33" r="1.95" fill="none" stroke="#f04848" stroke-width="0.9"/>
<circle cx="200.83" cy="394.93" r="1.95" fill="none" stroke="#f04848" stroke-width="0.9"/>
<circle cx="205.5" cy="391.89" r="1.95" fill="none" stroke="#f04848" stroke-width="0.9"/>
<circle cx="210.17" cy="388.91" r="1.95" fill="none" stroke="#f04848" stroke-width="0.9"/>
<circle cx="214.98" cy="386.36" r="1.95" fill="none" stroke="#f04848" stroke-width="0.9"/>
<circle cx="219.65" cy="384.72" r="1.95" fill="none" stroke="#f04848" stroke-width="0.9"/>
<circle cx="233.8" cy="379.98" r="1.95" fill="none" stroke="#f04848" stroke-width="0.9"/>
<circle cx="262.1" cy="376.94" r="1.95" fill="none" stroke="#f04848" stroke-width="0.9"/>
<circle cx="304.55" cy="369.94" r="1.95" fill="none" stroke="#f04848" stroke-width="0.9"/>
<circle cx="347" cy="366.78" r="1.95" fill="none" stroke="#f04848" stroke-width="0.9"/>
<circle cx="389.45" cy="364.84" r="1.95" fill="none" stroke="#f04848" stroke-width="0.9"/>
<path d="M174.25 422L180.15 422L177.2 417Z" fill="#1560dc"/>
<path d="M178.92 379.93L184.82 379.93L181.87 374.93Z" fill="#1560dc"/>
<path d="M183.73 350.32L189.63 350.32L186.68 345.32Z" fill="#1560dc"/>
<path d="M188.4 337.79L194.3 337.79L191.35 332.79Z" fill="#1560dc"/>
<path d="M193.07 333.96L198.97 333.96L196.02 328.96Z" fill="#1560dc"/>
<path d="M197.88 327.58L203.78 327.58L200.83 322.58Z" fill="#1560dc"/>
<path d="M202.55 323.08L208.45 323.08L205.5 318.08Z" fill="#1560dc"/>
<path d="M207.22 319.37L213.12 319.37L210.17 314.37Z" fill="#1560dc"/>
<path d="M212.03 315.84L217.93 315.84L214.98 310.84Z" fill="#1560dc"/>
<path d="M216.7 311.59L222.6 311.59L219.65 306.59Z" fill="#1560dc"/>
<path d="M230.85 303.44L236.75 303.44L233.8 298.44Z" fill="#1560dc"/>
<path d="M259.15 290.19L265.05 290.19L262.1 285.19Z" fill="#1560dc"/>
<path d="M301.6 276.2L307.5 276.2L304.55 271.2Z" fill="#1560dc"/>
<path d="M344.05 273.65L349.95 273.65L347 268.65Z" fill="#1560dc"/>
<path d="M386.5 272.07L392.4 272.07L389.45 267.07Z" fill="#1560dc"/>
<path d="M174.25 417.6L180.15 417.6L177.2 422.6Z" fill="#2aa85a"/>
<path d="M178.92 416.08L184.82 416.08L181.87 421.08Z" fill="#2aa85a"/>
<path d="M183.73 414.8L189.63 414.8L186.68 419.8Z" fill="#2aa85a"/>
<path d="M188.4 413.16L194.3 413.16L191.35 418.16Z" fill="#2aa85a"/>
<path d="M193.07 412.25L198.97 412.25L196.02 417.25Z" fill="#2aa85a"/>
<path d="M197.88 411.64L203.78 411.64L200.83 416.64Z" fill="#2aa85a"/>
<path d="M202.55 411.4L208.45 411.4L205.5 416.4Z" fill="#2aa85a"/>
<path d="M207.22 409.33L213.12 409.33L210.17 414.33Z" fill="#2aa85a"/>
<path d="M212.03 407.57L217.93 407.57L214.98 412.57Z" fill="#2aa85a"/>
<path d="M216.7 406.29L222.6 406.29L219.65 411.29Z" fill="#2aa85a"/>
<path d="M230.85 403.31L236.75 403.31L233.8 408.31Z" fill="#2aa85a"/>
<path d="M259.15 402.4L265.05 402.4L262.1 407.4Z" fill="#2aa85a"/>
<path d="M301.6 400.82L307.5 400.82L304.55 405.82Z" fill="#2aa85a"/>
<path d="M344.05 399.24L349.95 399.24L347 404.24Z" fill="#2aa85a"/>
<path d="M386.5 396.68L392.4 396.68L389.45 401.68Z" fill="#2aa85a"/>
<text x="177.55" y="431.1" text-anchor="middle" font-size="9.4">0</text>
<text x="205.82" y="431.1" text-anchor="middle" font-size="9.4">2</text>
<text x="234.09" y="431.1" text-anchor="middle" font-size="9.4">4</text>
<text x="262.36" y="431.1" text-anchor="middle" font-size="9.4">6</text>
<text x="290.62" y="431.1" text-anchor="middle" font-size="9.4">8</text>
<text x="318.89" y="431.1" text-anchor="middle" font-size="9.4">10</text>
<text x="347.16" y="431.1" text-anchor="middle" font-size="9.4">12</text>
<text x="375.43" y="431.1" text-anchor="middle" font-size="9.4">14</text>
<text x="403.7" y="431.1" text-anchor="middle" font-size="9.4">16</text>
<text x="173.35" y="423" text-anchor="end" font-size="9.4">0</text>
<text x="173.35" y="392.63" text-anchor="end" font-size="9.4">50</text>
<text x="173.35" y="362.27" text-anchor="end" font-size="9.4">100</text>
<text x="173.35" y="331.9" text-anchor="end" font-size="9.4">150</text>
<text x="173.35" y="301.53" text-anchor="end" font-size="9.4">200</text>
<text x="173.35" y="271.17" text-anchor="end" font-size="9.4">250</text>
<text x="173.35" y="240.8" text-anchor="end" font-size="9.4">300</text>
<text transform="translate(290.62 446.9) scale(0.95 1)" text-anchor="middle" font-size="9.9">Time(min)</text>
<text transform="translate(153.4 328.7) rotate(-90) scale(0.877 1)" text-anchor="middle" font-size="11.0">q<tspan font-size="8.4" dy="1.9" dx="0.3">t</tspan><tspan dy="-1.9" dx="0.5">,mgCaCO</tspan><tspan font-size="7.0" dy="1.9">3</tspan><tspan dy="-1.9">·g</tspan><tspan font-size="6.2" dy="-4.5">−1</tspan><tspan dy="4.5">/mgMgCO</tspan><tspan font-size="7.0" dy="1.9">3</tspan><tspan dy="-1.9">·g</tspan><tspan font-size="6.2" dy="-4.5">−1</tspan></text>
<text transform="translate(181.5 246.6) scale(0.95 1)" text-anchor="start" font-size="9.6">(c)</text>
<path d="M268.1 318.5H277.6" stroke="#4a4a4a" stroke-width="1"/>
<text transform="translate(282.3 321.5) scale(0.957 1)" text-anchor="start" font-size="9.4">PSO fitting line of 4A−Ca</text>
<path d="M268.1 331.4H277.6" stroke="#f54040" stroke-width="1"/>
<text transform="translate(282.3 334.4) scale(0.957 1)" text-anchor="start" font-size="9.4">PSO fitting line of 4A−Mg</text>
<path d="M268.1 343.8H277.6" stroke="#3f6cf5" stroke-width="1"/>
<text transform="translate(282.3 346.8) scale(0.957 1)" text-anchor="start" font-size="9.4">PSO fitting line of 4A−M−Ca</text>
<path d="M268.1 356.7H277.6" stroke="#35d43c" stroke-width="1"/>
<text transform="translate(282.3 359.7) scale(0.957 1)" text-anchor="start" font-size="9.4">PSO fitting line of 4A−M−Mg</text>
<rect x="272" y="376.6" width="3.6" height="3.6" fill="none" stroke="#707070" stroke-width="0.7"/>
<text x="287.8" y="382.1" text-anchor="start" font-size="9.05">4A−Ca</text>
<circle cx="335.9" cy="378.4" r="1.95" fill="none" stroke="#f04848" stroke-width="0.9"/>
<text x="349.9" y="382.1" text-anchor="start" font-size="9.05">4A−Mg</text>
<path d="M270.55 391.7L276.45 391.7L273.5 386.7Z" fill="#1560dc"/>
<text x="287.8" y="393.7" text-anchor="start" font-size="9.05">4A−M−Ca</text>
<path d="M335.05 388.4L340.95 388.4L338 393.4Z" fill="#2aa85a"/>
<text x="351.8" y="393.7" text-anchor="start" font-size="9.05">4A−M−Mg</text>
</g>
</svg>
</body>
</html>
